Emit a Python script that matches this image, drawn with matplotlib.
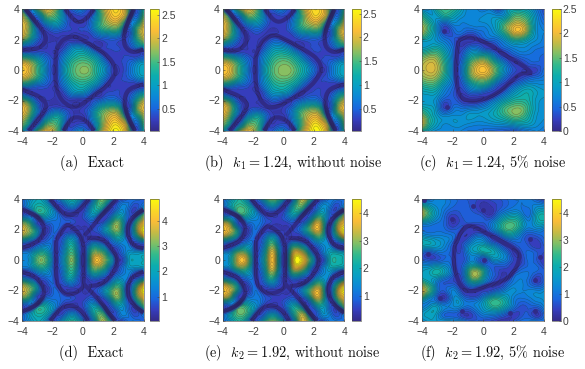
import numpy as np
import matplotlib
matplotlib.use('Agg')
import matplotlib.pyplot as plt
import matplotlib.tri as mtri
from matplotlib.cm import ScalarMappable
from matplotlib.colors import LinearSegmentedColormap, Normalize
from matplotlib.patches import PathPatch
from matplotlib.path import Path

nan = float('nan')

# values, rows y=4..-4, columns x=-4..4, step 0.5
grid_x = [-4, -3.5, -3, -2.5, -2, -1.5, -1, -0.5, 0, 0.5, 1, 1.5, 2, 2.5, 3, 3.5, 4]
grid_y = [4, 3.5, 3, 2.5, 2, 1.5, 1, 0.5, 0, -0.5, -1, -1.5, -2, -2.5, -3, -3.5, -4]

field_a = [
 [1.3, .60, 1.4, 2.0, 1.9, 1.15, .40, .60, .70, .40, 1.25, 1.95, 2.35, 2.25, 1.5, .40, 1.2],
 [1.9, 1.1, .55, 1.3, 1.55, 1.1, .45, .25, .30, .45, 1.1, 1.8, 2.2, 2.1, 1.4, .50, 1.55],
 [2.05, 1.55, .50, .60, .95, .85, .40, .25, .25, .55, 1.2, 1.65, 1.85, 1.6, .80, 1.0, 1.9],
 [2.1, 1.55, .65, .20, .35, .35, .30, .25, .30, .40, .85, 1.1, 1.2, .90, .30, 1.3, 2.0],
 [1.75, 1.15, .50, .20, .20, .20, .20, .15, .20, .25, .30, .40, .45, .35, .40, 1.1, 1.8],
 [.55, .40, .25, .20, .25, .20, .50, .80, .75, .50, .20, .30, .35, .30, .30, .65, .95],
 [.90, .75, .60, .45, .25, .40, .85, 1.15, 1.25, 1.05, .70, .30, .25, .30, .30, .25, .30],
 [1.95, 1.75, 1.3, .75, .35, .55, 1.1, 1.45, 1.55, 1.45, 1.1, .60, .25, .30, .45, .70, .90],
 [2.25, 2.0, 1.45, .85, .30, .60, 1.2, 1.55, 1.7, 1.6, 1.2, .80, .25, .25, .50, .85, 1.0],
 [1.95, 1.75, 1.3, .75, .35, .55, 1.1, 1.45, 1.55, 1.45, 1.1, .60, .25, .30, .45, .70, .90],
 [1.0, .80, .55, .45, .25, .40, .85, 1.15, 1.25, 1.05, .70, .30, .25, .30, .25, .25, .30],
 [.45, .25, .25, .25, .25, .20, .55, .85, .85, .55, .20, .30, .35, .30, .30, .60, .95],
 [1.65, 1.05, .35, .20, .20, .15, .20, .20, .20, .30, .45, .65, .70, .45, .35, 1.1, 1.8],
 [2.15, 1.65, .70, .20, .35, .35, .25, .15, .25, .50, 1.05, 1.4, 1.5, 1.05, .30, 1.35, 2.05],
 [2.0, 1.45, .55, .55, 1.0, 1.0, .45, .20, .20, .60, 1.3, 1.8, 2.05, 1.7, .85, .95, 1.75],
 [1.7, 1.0, .45, 1.2, 1.55, 1.2, .40, .25, .30, .50, 1.15, 1.9, 2.35, 2.2, 1.45, .50, 1.45],
 [1.1, .50, 1.35, 2.0, 1.95, 1.2, .40, .60, .75, .45, 1.3, 2.1, 2.55, 2.45, 1.65, .40, 1.1],
]
field_b = [
 [1.35, .60, 1.4, 2.0, 1.85, 1.1, .40, .60, .70, .40, 1.25, 2.0, 2.4, 2.25, 1.5, .40, 1.3],
 [1.95, 1.15, .50, 1.25, 1.5, 1.05, .40, .25, .30, .45, 1.1, 1.8, 2.25, 2.1, 1.4, .50, 1.6],
 [2.1, 1.55, .50, .55, .85, .75, .35, .25, .25, .55, 1.2, 1.65, 1.85, 1.6, .80, 1.0, 1.95],
 [2.15, 1.55, .65, .20, .35, .35, .20, .20, .25, .40, .85, 1.1, 1.2, .90, .30, 1.35, 2.1],
 [1.75, 1.15, .50, .20, .25, .20, .30, .45, .35, .25, .30, .40, .45, .35, .40, 1.15, 1.85],
 [.65, .40, .25, .20, .25, .25, .65, .90, .85, .60, .25, .25, .35, .30, .30, .65, 1.0],
 [1.0, .80, .55, .40, .25, .50, .95, 1.25, 1.3, 1.15, .80, .35, .25, .30, .30, .25, .30],
 [1.95, 1.75, 1.3, .75, .35, .60, 1.15, 1.5, 1.6, 1.5, 1.2, .80, .35, .30, .45, .70, .90],
 [2.2, 2.0, 1.45, .85, .30, .65, 1.25, 1.6, 1.7, 1.65, 1.35, 1.0, .55, .20, .45, .85, 1.0],
 [1.95, 1.75, 1.3, .75, .35, .60, 1.15, 1.5, 1.6, 1.5, 1.2, .80, .35, .30, .45, .70, .90],
 [1.0, .80, .55, .45, .25, .50, .95, 1.25, 1.3, 1.15, .80, .35, .25, .30, .25, .25, .30],
 [.45, .25, .25, .25, .25, .25, .70, .95, .95, .70, .25, .25, .35, .30, .30, .65, 1.0],
 [1.65, 1.05, .35, .20, .25, .20, .30, .45, .30, .30, .45, .65, .70, .45, .35, 1.15, 1.85],
 [2.2, 1.65, .70, .20, .35, .30, .20, .15, .25, .50, 1.05, 1.4, 1.5, 1.05, .30, 1.4, 2.1],
 [2.05, 1.45, .55, .55, 1.0, .95, .40, .20, .20, .60, 1.3, 1.8, 2.05, 1.7, .85, 1.0, 1.8],
 [1.7, 1.05, .45, 1.2, 1.55, 1.15, .35, .25, .30, .50, 1.15, 1.9, 2.4, 2.2, 1.45, .50, 1.5],
 [1.1, .50, 1.35, 2.0, 1.85, 1.15, .40, .60, .75, .45, 1.3, 2.1, 2.55, 2.45, 1.65, .40, 1.2],
]
field_c = [
 [.70, .75, 1.2, 1.4, 1.3, 1.0, .70, .70, .50, .60, .25, .80, 1.0, 1.0, .90, .60, .30],
 [1.3, .90, .90, 1.1, 1.0, .80, .70, .70, .75, .80, .80, .95, 1.4, 1.45, 1.2, .75, .40],
 [1.6, 1.2, .70, .40, .65, .65, .65, .70, .70, .80, 1.05, 1.45, 1.8, 1.85, 1.4, .80, .55],
 [1.7, 1.2, .70, .25, .40, .55, .40, .45, .55, .70, .95, 1.4, 1.9, 1.95, 1.4, .80, .65],
 [1.05, .95, .75, .55, .40, .25, .15, .20, .40, .50, .60, .85, 1.2, 1.2, .95, .75, .60],
 [.90, 1.0, 1.05, .80, .50, .20, .40, .50, .30, .20, .35, .55, .70, .75, .70, .60, .55],
 [1.35, 1.5, 1.45, 1.05, .55, .30, .80, 1.05, 1.05, .80, .35, .25, .40, .55, .55, .50, .45],
 [1.7, 1.85, 1.7, 1.2, .60, .40, 1.15, 1.65, 1.8, 1.45, .95, .50, .20, .25, .40, .45, .40],
 [1.75, 1.9, 1.75, 1.25, .60, .45, 1.3, 1.9, 2.1, 1.8, 1.25, .70, .35, .20, .20, .25, .50],
 [1.6, 1.7, 1.55, 1.1, .60, .40, 1.15, 1.65, 1.75, 1.5, .95, .45, .20, .25, .40, .50, .60],
 [1.25, 1.35, 1.2, .80, .50, .30, .70, 1.05, 1.1, .80, .35, .25, .45, .70, .85, .80, .75],
 [.95, 1.0, .90, .60, .40, .20, .35, .45, .35, .25, .30, .55, .85, 1.05, 1.1, .95, .85],
 [.85, .85, .70, .35, .40, .25, .15, .15, .25, .50, .75, 1.0, 1.2, 1.25, 1.15, .90, .80],
 [1.1, 1.0, .70, .25, .50, .55, .55, .60, .70, .85, 1.1, 1.4, 1.55, 1.55, 1.25, .90, .75],
 [1.6, 1.15, .85, .70, .75, .75, .85, .85, .85, .95, 1.1, 1.3, 1.5, 1.45, 1.15, .85, .75],
 [1.85, 1.2, .90, .75, .80, .80, .75, .70, .70, .75, .80, .85, .95, 1.0, .95, .80, .70],
 [1.1, .85, .70, .70, .65, .65, .55, .55, .50, .45, .40, .35, .30, .45, .55, .65, .55],
]
field_d = [
 [.80, 1.5, 2.0, 1.6, .50, 1.3, 2.1, 2.2, 1.3, .60, 2.5, 2.8, 1.2, .50, 1.0, 1.1, .80],
 [.70, 1.6, 2.35, 2.2, 1.3, .50, 1.1, 1.2, .50, 1.4, 2.5, 1.7, .60, 1.3, 1.1, .60, 1.3],
 [.50, 1.1, 2.1, 2.2, 1.6, .80, .35, .35, .60, 1.6, 1.5, .60, 1.1, 1.8, .90, 1.0, 2.7],
 [2.8, 2.1, .60, .90, 1.05, .95, .80, .60, .50, .80, .55, .90, 2.5, 2.5, .90, 2.2, 3.8],
 [3.8, 3.1, 1.6, .35, .85, .75, .45, .35, .40, .50, .80, 1.8, 2.9, 2.6, .90, 2.7, 4.8],
 [2.8, 2.2, 1.2, .50, .95, .60, 1.3, 1.2, .45, .40, .40, .80, 1.7, 2.0, 1.0, 1.6, 3.3],
 [.60, .55, .90, 1.2, 1.0, .70, 2.0, 1.8, .50, 1.3, 1.6, 1.0, .80, 1.2, 1.3, .55, .50],
 [1.2, 1.3, 2.1, 2.2, 1.1, .90, 2.3, 2.2, .60, 2.3, 3.1, 2.2, .70, .80, 1.6, 1.6, 1.7],
 [1.3, 1.6, 2.8, 2.9, 1.4, 1.1, 2.6, 2.5, .50, 2.6, 4.0, 3.0, 1.5, .40, 1.7, 1.9, 2.0],
 [1.2, 1.3, 2.1, 2.2, 1.1, .90, 2.3, 2.2, .60, 2.3, 3.1, 2.2, .70, .80, 1.6, 1.6, 1.7],
 [.60, .55, .90, 1.2, 1.0, .70, 2.0, 1.7, .50, 1.3, 1.6, 1.0, .80, 1.2, 1.3, .55, .50],
 [2.8, 2.2, 1.2, .50, .95, .60, 1.2, 1.0, .40, .40, .40, .80, 1.7, 2.0, 1.0, 1.6, 3.3],
 [3.8, 3.1, 1.6, .35, .85, .75, .40, .35, .40, .45, .80, 1.8, 2.9, 2.6, .90, 2.7, 4.8],
 [2.8, 2.1, .60, .90, 1.05, .95, .80, .60, .50, .80, .55, .90, 2.5, 2.5, .90, 2.2, 3.8],
 [.50, 1.1, 2.1, 2.2, 1.6, .80, .35, .35, .60, 1.6, 1.6, .60, 1.1, 1.8, .90, 1.0, 2.7],
 [.70, 1.6, 2.35, 2.2, 1.3, .50, 1.1, 1.2, .50, 1.4, 2.7, 2.0, .60, 1.3, 1.1, .60, 1.3],
 [.80, 1.5, 2.0, 1.6, .50, 1.3, 2.2, 2.3, 1.3, .60, 2.6, 3.1, 1.4, .50, 1.0, 1.1, .80],
]
field_e = [
 [.80, 1.5, 2.2, 1.7, .55, 1.3, 2.6, 2.7, 1.5, .60, 2.7, 3.0, 1.4, .50, 1.1, 1.1, .90],
 [.70, 1.7, 2.5, 2.35, 1.4, .55, 1.2, 1.3, .55, 1.5, 2.7, 1.8, .65, 1.4, 1.2, .60, 1.4],
 [.50, 1.1, 2.2, 2.3, 1.7, .90, .40, .40, .65, 1.7, 1.6, .65, 1.2, 2.0, 1.0, 1.1, 2.8],
 [3.0, 2.3, .65, 1.0, 1.15, 1.05, .65, .50, .55, .80, .60, 1.0, 2.8, 2.8, .95, 2.3, 3.7],
 [3.95, 3.3, 1.7, .35, .95, .75, .45, .35, .40, .50, .85, 2.0, 3.3, 3.0, .95, 2.8, 4.4],
 [2.9, 2.3, 1.3, .50, 1.0, .65, 1.5, 1.4, .45, .40, .40, .85, 1.9, 2.2, 1.1, 1.7, 3.3],
 [.60, .60, 1.0, 1.4, 1.1, .75, 2.3, 2.1, .50, 1.4, 1.7, 1.05, .80, 1.3, 1.4, .60, .55],
 [1.3, 1.4, 2.6, 2.6, 1.2, 1.0, 2.85, 2.8, .60, 2.6, 3.6, 2.4, .70, .90, 1.8, 1.8, 1.6],
 [1.4, 1.8, 3.4, 3.5, 1.5, 1.2, 3.1, 3.0, .50, 3.0, 4.5, 3.3, 1.5, .40, 1.8, 2.2, 1.9],
 [1.3, 1.4, 2.6, 2.6, 1.2, 1.0, 2.85, 2.8, .60, 2.6, 3.6, 2.4, .70, .90, 1.8, 1.8, 1.6],
 [.60, .60, 1.0, 1.4, 1.1, .75, 2.3, 2.0, .50, 1.4, 1.7, 1.05, .80, 1.3, 1.4, .60, .55],
 [2.9, 2.3, 1.3, .50, 1.0, .65, 1.4, 1.2, .40, .40, .40, .85, 1.9, 2.2, 1.1, 1.7, 3.3],
 [3.95, 3.3, 1.7, .35, .95, .75, .40, .35, .40, .45, .85, 2.0, 3.3, 3.0, .95, 2.8, 4.4],
 [3.0, 2.3, .65, 1.0, 1.15, 1.05, .65, .50, .55, .80, .60, 1.0, 2.8, 2.8, .95, 2.3, 3.7],
 [.50, 1.1, 2.2, 2.3, 1.7, .90, .40, .40, .65, 1.7, 1.7, .65, 1.2, 2.0, 1.0, 1.1, 2.8],
 [.70, 1.7, 2.7, 2.55, 1.4, .55, 1.2, 1.3, .55, 1.5, 2.9, 2.3, .65, 1.4, 1.2, .60, 1.4],
 [.80, 1.5, 2.2, 1.7, .55, 1.3, 2.6, 2.7, 1.5, .60, 2.8, 3.2, 1.5, .50, 1.1, 1.1, .90],
]
field_f = [
 [.40, .90, 1.3, 1.2, .90, .80, .65, .55, .45, .55, .65, .80, 1.0, 1.0, 1.1, .75, .35],
 [2.3, 1.7, 1.3, 1.1, .85, .75, .70, .50, .25, .30, .55, .80, 1.0, 1.0, 1.05, 1.3, 1.3],
 [3.2, 2.2, 1.4, .85, .50, .65, .75, .70, .50, .30, .90, 1.4, 1.6, 1.3, .90, 1.7, 2.0],
 [1.7, 1.4, 1.05, .75, .30, .55, .70, .70, .70, .90, 1.6, 2.3, 2.4, 1.85, 1.2, 1.7, 1.9],
 [.95, .90, .95, .85, .65, .70, .45, .30, .40, .85, 1.6, 2.4, 2.35, 1.6, 1.05, 1.2, 1.05],
 [1.6, 1.4, 1.3, 1.2, 1.0, .50, .45, 1.0, 1.0, .50, .50, 1.15, 1.35, .95, .55, .60, .85],
 [1.95, 1.8, 1.6, 1.25, .75, .45, 1.1, 1.6, 1.75, 1.3, .80, .40, .55, .80, .60, .35, .70],
 [.85, .70, .95, .95, .70, .50, 1.2, 1.6, 1.9, 2.0, 1.6, 1.0, .30, .55, .90, .70, .50],
 [.75, .60, .65, .90, .80, .55, 1.0, 1.1, .50, 1.1, 1.4, 1.1, .50, .45, .90, .70, .35],
 [1.5, 1.6, 1.8, 1.5, .90, .60, 1.7, 2.3, 1.6, .80, .60, .55, .40, .70, .90, .90, .60],
 [1.7, 1.8, 1.9, 1.4, .75, .50, 2.0, 3.1, 2.1, .95, .50, .30, .85, 1.1, 1.0, .60, .80],
 [2.5, 1.9, 1.05, .65, .60, .40, 1.2, 1.7, 1.2, .60, .30, .60, 1.1, 1.2, .90, .50, .80],
 [3.5, 2.4, 1.05, .75, 1.2, .60, .35, .40, .45, .50, .85, 1.2, 1.4, 1.2, 1.2, 1.2, 1.3],
 [2.2, 1.35, .65, .35, 1.2, 1.2, .70, .70, 1.2, 1.9, 2.1, 1.8, 1.2, 1.0, 1.1, 1.3, 1.4],
 [1.05, 1.4, 1.5, 1.15, 1.3, 1.3, 1.0, 1.2, 1.6, 2.2, 2.3, 1.8, 1.1, .65, .75, .85, 1.2],
 [1.6, 1.8, 1.5, .85, .80, .55, .35, .75, 1.2, 1.3, 1.2, .80, .45, .55, .65, .30, .85],
 [1.3, 1.6, 1.5, 1.5, 1.3, 1.2, .80, .70, .60, .50, .30, .25, .55, .90, 1.0, 1.0, 1.0],
]

# dark valleys, pieces split by nan
valley_a_x = [-1.73, -1.47, -1.03, -.48, .17, .94, 1.71, 2.19, 2.15, 1.6, .83, .07, -.48, -1.14, -1.64, -1.8, -1.81, -1.8, -1.73, nan,
              -4, -3.22, -2.68, -2.35, -2.57, -3.02, -3.55, -3.77, nan,
              -4, -3.22, -2.57, -2.35, -2.68, -3.11, -3.55, nan,
              -1.14, -.81, -.33, .17, .53, .72, nan,
              -1.25, -.92, -.48, .17, .61, .72, nan,
              3.36, 3.03, 2.72, 2.7, 3.25, 4, nan,
              4, 3.25, 2.74, 2.8, 3.14, 3.46]
valley_a_y = [1.33, 1.87, 2.13, 2.24, 1.87, 1.44, .89, .13, -.3, -1.07, -1.61, -2.16, -2.48, -2.27, -1.61, -.85, .03, .68, 1.33, nan,
              1.33, 1.33, 1.55, 1.98, 2.53, 3.07, 3.73, 4, nan,
              -1.29, -1.53, -1.94, -2.37, -2.92, -3.46, -4, nan,
              4, 3.53, 3.07, 3.29, 3.73, 4, nan,
              -4, -3.36, -3.03, -3.25, -3.81, -4, nan,
              4, 3.29, 2.42, 1.55, 1.11, 1.33, nan,
              -.96, -1.07, -1.61, -2.6, -3.46, -4]
valley_b_x = [-1.85, -1.86, -1.85, -1.7, -1.3, -.7, .02, .9, 1.8, 2.4, 2.52, 2.3, 1.6, .9, .1, -.6, -1.2, -1.6, -1.85, nan,
              -4, -3.2, -2.6, -2.35, -2.6, -3.02, -3.53, -3.8, nan,
              -4, -3.22, -2.57, -2.35, -2.68, -3.11, -3.55, nan,
              -1.2, -.9, -.4, .12, .53, .72, nan,
              -1.25, -.92, -.48, .17, .61, .72, nan,
              3.36, 3.03, 2.72, 2.7, 3.25, 4, nan,
              4, 3.25, 2.74, 2.8, 3.14, 3.46]
valley_b_y = [.8, .03, -.8, -1.6, -2.3, -2.53, -2.2, -1.7, -1.1, -.3, .1, .7, 1.2, 1.6, 2.02, 2.35, 2.1, 1.6, .8, nan,
              1.33, 1.2, 1.53, 2.02, 2.6, 3.1, 3.75, 4, nan,
              -1.29, -1.53, -1.94, -2.37, -2.92, -3.46, -4, nan,
              4, 3.52, 3.1, 3.3, 3.7, 4, nan,
              -4, -3.36, -3.03, -3.25, -3.81, -4, nan,
              4, 3.29, 2.42, 1.55, 1.11, 1.33, nan,
              -.96, -1.07, -1.61, -2.6, -3.46, -4]
valley_c_x = [-1.62, -1.18, -.3, .68, 1.67, 2.65, 3.3, 2.55, 1.78, .9, -.2, -1.18, -1.62, -1.73, -1.78, -1.73, -1.62]
valley_c_y = [1.93, 2.2, 2.02, 1.52, .83, .28, -.26, -.15, -.8, -1.58, -2.02, -2.02, -1.58, -.8, .03, .94, 1.93]
valley_d_x = [-1.75, -1.76, -1.75, -1.58, -.92, .02, .07, .02, .07, -.92, -1.25, -1.75, nan,
              .28, 1.16, 1.93, 2.37, 2.04, 1.27, .4, nan,
              .1, .52, 1.16, 1.7, 2.26, nan,
              .1, .52, 1.27, 1.7, 2.15, nan,
              -2.13, -1.58, -.92, -.26, .18, .4, nan,
              -2.13, -1.58, -.92, -.26, .18, .33, nan,
              -4, -3.33, -2.78, -2.46, -2.78, -3.33, -4, nan,
              -4, -3.33, -2.78, -2.46, -2.78, -3.33, -4, nan,
              4, 3.36, 2.92, 3.03, 3.46, 4, nan,
              4, 3.46, 3.03, 2.92, 3.25, 4]
valley_d_y = [1.3, .03, -1.3, -1.83, -2.37, -1.9, -1.4, -.1, 1.45, 2.4, 2.1, 1.3, nan,
              1.44, 1.55, .78, .03, -.85, -1.6, -1.72, nan,
              1.6, 2.03, 2.85, 3.4, 4, nan,
              -1.6, -2.05, -2.8, -3.46, -4, nan,
              4, 3.3, 2.85, 3.18, 3.73, 4, nan,
              -4, -3.25, -2.92, -3.14, -3.68, -4, nan,
              3.3, 3.07, 2.64, 1.98, 1.33, 1.02, .78, nan,
              -.78, -.96, -1.39, -2.05, -2.7, -3.14, -3.36, nan,
              3.3, 2.96, 2.2, 1.33, .89, .78, nan,
              -.78, -.96, -1.39, -2.16, -2.92, -3.46]
valley_e_x = [-1.8, -1.82, -1.8, -1.6, -.9, .08, .12, .08, .12, -.9, -1.3, -1.8, nan,
              .32, 1.2, 1.98, 2.42, 2.08, 1.3, .42, nan,
              .14, .56, 1.2, 1.74, 2.3, nan,
              .14, .56, 1.3, 1.74, 2.2, nan,
              -2.1, -1.55, -.9, -.24, .2, .42, nan,
              -2.1, -1.55, -.9, -.24, .2, .36, nan,
              -4, -3.3, -2.75, -2.44, -2.75, -3.3, -4, nan,
              -4, -3.3, -2.75, -2.44, -2.75, -3.3, -4, nan,
              4, 3.36, 2.92, 3.03, 3.46, 4, nan,
              4, 3.46, 3.03, 2.92, 3.25, 4]
valley_e_y = [1.3, .03, -1.3, -1.83, -2.3, -1.9, -1.4, -.1, 1.45, 2.3, 2.05, 1.3, nan,
              1.44, 1.5, .78, .03, -.85, -1.6, -1.72, nan,
              1.6, 2.03, 2.85, 3.4, 4, nan,
              -1.6, -2.05, -2.8, -3.46, -4, nan,
              4, 3.3, 2.85, 3.18, 3.73, 4, nan,
              -4, -3.25, -2.92, -3.14, -3.68, -4, nan,
              3.3, 3.07, 2.64, 1.98, 1.33, 1.02, .78, nan,
              -.78, -.96, -1.39, -2.05, -2.7, -3.14, -3.36, nan,
              3.3, 2.96, 2.2, 1.33, .89, .78, nan,
              -.78, -.96, -1.39, -2.16, -2.92, -3.46]
valley_f_x = [-1.84, -1.4, -.75, .24, 1.23, 2.32, 2.43, 2, 1.34, .24, -.86, -1.52, -1.84, -1.95, -1.84]
valley_f_y = [1, 2.1, 2.3, 1.76, 1.22, .57, .03, -.85, -1.39, -1.72, -2.16, -1.72, -.74, .13, 1]

# small separate minima in the noisy panels
spot_c_x = [-2.6, -2.4]
spot_c_y = [2.55, -2.4]
spot_f_x = [-2.02, -.64, .02, 3.1, 3.4, 3.4, -3.6, -2.83, -1.4, -3.9, .05, 3.75, 1.8]
spot_f_y = [2.7, 3.52, 3.3, 1.4, -1.28, -3.35, .4, -2.48, -3.35, 3.94, .03, .17, -3.46]

valley_x = [valley_a_x, valley_b_x, valley_c_x, valley_d_x, valley_e_x, valley_f_x]
valley_y = [valley_a_y, valley_b_y, valley_c_y, valley_d_y, valley_e_y, valley_f_y]
spot_x = [[], [], spot_c_x, [], [], spot_f_x]
spot_y = [[], [], spot_c_y, [], [], spot_f_y]

captions = [
 '(a)  Exact', r'(b)  $k_1 = 1.24$, without noise', r'(c)  $k_1 = 1.24$, 5% noise',
 '(d)  Exact', r'(e)  $k_2 = 1.92$, without noise', r'(f)  $k_2 = 1.92$, 5% noise',
]
color_limits = [(0.03, 2.62), (0.03, 2.6), (0, 2.5), (0.05, 4.85), (0.1, 4.5), (0, 4.5)]
bar_ticks = [
 [0.5, 1, 1.5, 2, 2.5], [0.5, 1, 1.5, 2, 2.5], [0, 0.5, 1, 1.5, 2, 2.5],
 [1, 2, 3, 4], [1, 2, 3, 4], [0, 1, 2, 3, 4],
]
axis_ticks = [-4, -2, 0, 2, 4]

parula = LinearSegmentedColormap.from_list('parula', [
 (.208, .166, .529), (.21, .24, .74), (.10, .40, .87), (.05, .52, .85), (.03, .62, .78),
 (.05, .68, .68), (.20, .73, .55), (.50, .75, .40), (.78, .73, .27),
 (.98, .74, .22), (.98, .85, .15), (.98, .98, .05)])
dark = (.19, .17, .53)

plt.rcParams['font.family'] = ['Liberation Sans', 'DejaVu Sans']
plt.rcParams['mathtext.fontset'] = 'cm'

W, H = 585, 369
fig = plt.figure(figsize=(W / 100, H / 100), dpi=100)


def px_axes(x0, y0, x1, y1):
    return fig.add_axes([x0 / W, 1 - y1 / H, (x1 - x0) / W, (y1 - y0) / H])


def curve_path(xs, ys):
    # rounded bezier path through the read points, nan starts a new piece
    verts, codes = [], []
    piece = []
    for x, y in list(zip(xs, ys)) + [(nan, nan)]:
        if x == x:
            piece.append((x, y))
            continue
        verts.append(piece[0])
        codes.append(Path.MOVETO)
        for p, q in zip(piece[1:-1], piece[2:]):
            verts += [p, ((p[0] + q[0]) / 2, (p[1] + q[1]) / 2)]
            codes += [Path.CURVE3, Path.CURVE3]
        verts.append(piece[-1])
        codes.append(Path.LINETO)
        piece = []
    return Path(verts, codes)


panel_left = [22, 222.7, 422.3]
bar_left = [150.5, 351.7, 551.7]
panel_top = [9, 199]
X, Y = np.meshgrid(grid_x, grid_y)
tri = mtri.Triangulation(X.ravel(), Y.ravel())
refiner = mtri.UniformTriRefiner(tri)
fields = [field_a, field_b, field_c, field_d, field_e, field_f]

for i, field in enumerate(fields):
    col, row = i % 3, i // 3
    x0, y0 = panel_left[col], panel_top[row]
    ax = px_axes(x0, y0, x0 + 121.5, y0 + 122)
    vmin, vmax = color_limits[i]
    levels = np.linspace(vmin, vmax, 28)
    fine_tri, fine_z = refiner.refine_field(np.array(field, dtype=float).ravel(), subdiv=3)
    fine_z = np.clip(fine_z, vmin + 1e-3, vmax - 1e-3)
    ax.tricontourf(fine_tri, fine_z, levels=levels, cmap=parula, vmin=vmin, vmax=vmax)
    ax.tricontour(fine_tri, fine_z, levels=levels, colors=[(.12, .12, .12, .45)], linewidths=0.35)
    valley = curve_path(valley_x[i], valley_y[i])
    ax.add_patch(PathPatch(valley, fill=False, ec=(.2, .26, .74), lw=5.0, alpha=.55, capstyle='butt'))
    ax.add_patch(PathPatch(valley, fill=False, ec=dark, lw=3.0, capstyle='butt'))
    ax.plot(spot_x[i], spot_y[i], 'o', color=dark, ms=3.5, mew=0)
    ax.set_xlim(-4, 4)
    ax.set_ylim(-4, 4)
    ax.set_xticks(axis_ticks)
    ax.set_yticks(axis_ticks)
    ax.tick_params(direction='in', length=1.5, width=0.4, labelsize=7.5, colors='#404040',
                   top=False, right=False)
    ax.tick_params(axis='x', pad=4)
    ax.tick_params(axis='y', pad=2)
    for s in ax.spines.values():
        s.set_linewidth(0.4)
        s.set_color('#404040')
    ax.text(0.575, -0.265, captions[i], transform=ax.transAxes, ha='center', va='center',
            family='cmr10', fontsize=10.3, color='#111111')

    cax = px_axes(bar_left[col], y0, bar_left[col] + 9, y0 + 122)
    cb = fig.colorbar(ScalarMappable(Normalize(vmin, vmax), parula), cax=cax)
    cb.set_ticks(bar_ticks[i], labels=[f'{t:g}' for t in bar_ticks[i]])
    cb.ax.tick_params(direction='in', length=1.5, width=0.4, labelsize=7.5, pad=1.5, colors='#404040')
    cb.outline.set_linewidth(0.4)
    cb.outline.set_edgecolor('#404040')

fig.savefig('out.png', dpi=100)
